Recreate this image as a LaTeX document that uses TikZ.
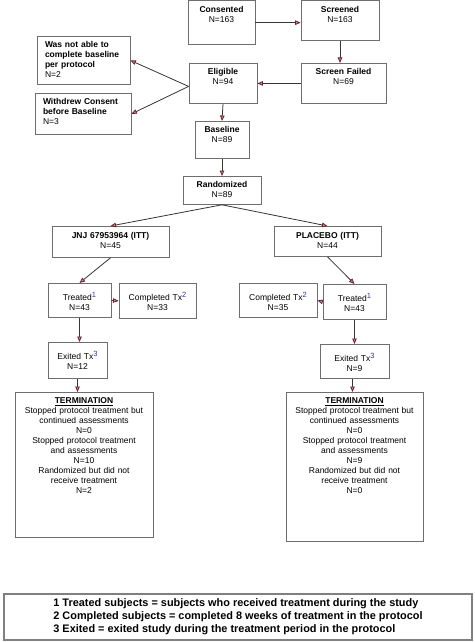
\documentclass[tikz,border=0pt]{standalone}
\usepackage{fontspec}
\setmainfont{Liberation Sans}
\usepackage{xcolor}
\usepackage{tikz}
\usetikzlibrary{arrows.meta}
\definecolor{boxgray}{HTML}{6E6E6E}
\definecolor{linegray}{HTML}{3A3434}
\definecolor{tipred}{HTML}{6A1F2E}
\definecolor{supblue}{HTML}{3535A5}
\newcommand{\sn}[1]{\raisebox{3.2pt}{\color{supblue}\fontsize{7.5}{7.5}\selectfont#1}}

\begin{document}
\begin{tikzpicture}[x=1pt, y=-1pt,
    box/.style={draw=boxgray, line width=0.8pt, anchor=north, align=center, inner xsep=2pt, inner ysep=4.5pt, text height=7pt, font=\fontsize{8.5}{10}\selectfont},
    lbox/.style={box, align=left, inner xsep=8pt},
    flow/.style={draw=linegray, line width=0.8pt, -{Triangle[open, length=5.5pt, width=4.5pt, color=tipred, fill=tipred!45!white]}}]
      \useasboundingbox[fill=white] (0,0) rectangle (474,642);
      \node[box, text width=63pt, text depth=27.5pt] (cons) at (221.5,0.5) {\textbf{Consented}\\N=163};
      \node[box, text width=74pt, text depth=23.5pt] (scr) at (340,0.5) {\textbf{Screened}\\N=163};
      \node[lbox, text width=77pt, text depth=32pt] (nobase) at (83.5,36) {\textbf{Was not able to}\\\textbf{complete baseline}\\\textbf{per protocol}\\N=2};
      \node[lbox, text width=80pt, text depth=25pt] (withdrew) at (83,93) {\textbf{Withdrew Consent}\\\textbf{before Baseline}\\N=3};
      \node[box, text width=64pt, text depth=24pt] (elig) at (223,63) {\textbf{Eligible}\\N=94};
      \node[box, text width=81pt, text depth=24pt] (fail) at (343.5,63) {\textbf{Screen Failed}\\N=69};
      \node[box, text width=50pt, text depth=21pt] (base) at (222,121) {\textbf{Baseline}\\N=89};
      \node[box, text width=74pt, text depth=13pt, inner ysep=4pt] (rand) at (222,176) {\textbf{Randomized}\\N=89};
      \node[box, text width=113pt, text depth=13pt, inner ysep=5.5pt] (jnj) at (110.5,226) {\textbf{JNJ 67953964 (ITT)}\\N=45};
      \node[box, text width=103pt, text depth=13pt, inner ysep=5pt] (plac) at (327.5,226) {\textbf{PLACEBO (ITT)}\\N=44};
      % treatment arms
      \node[box, text width=59pt, text depth=7pt, inner ysep=10pt] (trtL) at (79.5,283) {Treated\sn{1}\\N=43};
      \node[box, text width=73pt, text depth=8pt, inner ysep=10pt] (cmpL) at (157.5,283) {Completed Tx\sn{2}\\N=33};
      \node[box, text width=55pt, text depth=9pt, inner ysep=10pt] (exL) at (77.5,342) {Exited Tx\sn{3}\\N=12};
      \node[box, text width=74pt, text depth=7pt, inner ysep=10pt] (cmpR) at (278,283) {Completed Tx\sn{2}\\N=35};
      \node[box, text width=59pt, text depth=8pt, inner ysep=10pt] (trtR) at (354.5,284) {Treated\sn{1}\\N=43};
      \node[box, text width=65pt, text depth=7pt, inner ysep=10pt] (exR) at (354.5,344) {Exited Tx\sn{3}\\N=9};
      \node[box, text width=134pt, text depth=129pt] (termL) at (84,392) {\textbf{\underline{TERMINATION}}\\Stopped protocol treatment but\\continued assessments\\N=0\\Stopped protocol treatment\\and assessments\\N=10\\Randomized but did not\\receive treatment\\N=2};
      \node[box, text width=133pt, text depth=133pt] (termR) at (354.5,392) {\textbf{\underline{TERMINATION}}\\Stopped protocol treatment but\\continued assessments\\N=0\\Stopped protocol treatment\\and assessments\\N=9\\Randomized but did not\\receive treatment\\N=0};
      \node[draw=gray, line width=1.8pt, minimum width=468pt, minimum height=46pt, align=left, font=\fontsize{10.9}{13}\selectfont\bfseries] (legend) at (238,617) {1 Treated subjects = subjects who received treatment during the study\\2 Completed subjects = completed 8 weeks of treatment in the protocol\\3 Exited = exited study during the treatment period in the protocol};
      % connectors
      \draw[flow] (cons.east) -- (scr.west |- cons.east);
      \draw[flow] (scr.south) -- (scr.south |- fail.north);
      \draw[flow] (fail.west) -- (elig.east);
      \draw[flow] ([yshift=-3pt]elig.west) -- (nobase.east);
      \draw[flow] ([yshift=-3pt]elig.west) -- (withdrew.east);
      \draw[flow] (elig.south) -- (base.north);
      \draw[flow] (base.south) -- (rand.north);
      \foreach \arm in {jnj,plac}
        \draw[flow] (rand.south) -- (\arm.north);
      \draw[flow] (jnj.south) -- (trtL.north);
      \draw[flow] (trtL.east) -- (cmpL.west);
      \draw[flow] (trtL.south) -- (trtL.south |- exL.north);
      \draw[flow] (exL.south) -- (exL.south |- termL.north);
      \draw[flow] (plac.south) -- (trtR.north);
      \draw[flow] (trtR.west) -- (cmpR.east);
      \draw[flow] (trtR.south) -- (exR.north);
      \draw[flow] ([xshift=-2pt]exR.south) -- ([xshift=-2pt]exR.south |- termR.north);
    \end{tikzpicture}
\end{document}
